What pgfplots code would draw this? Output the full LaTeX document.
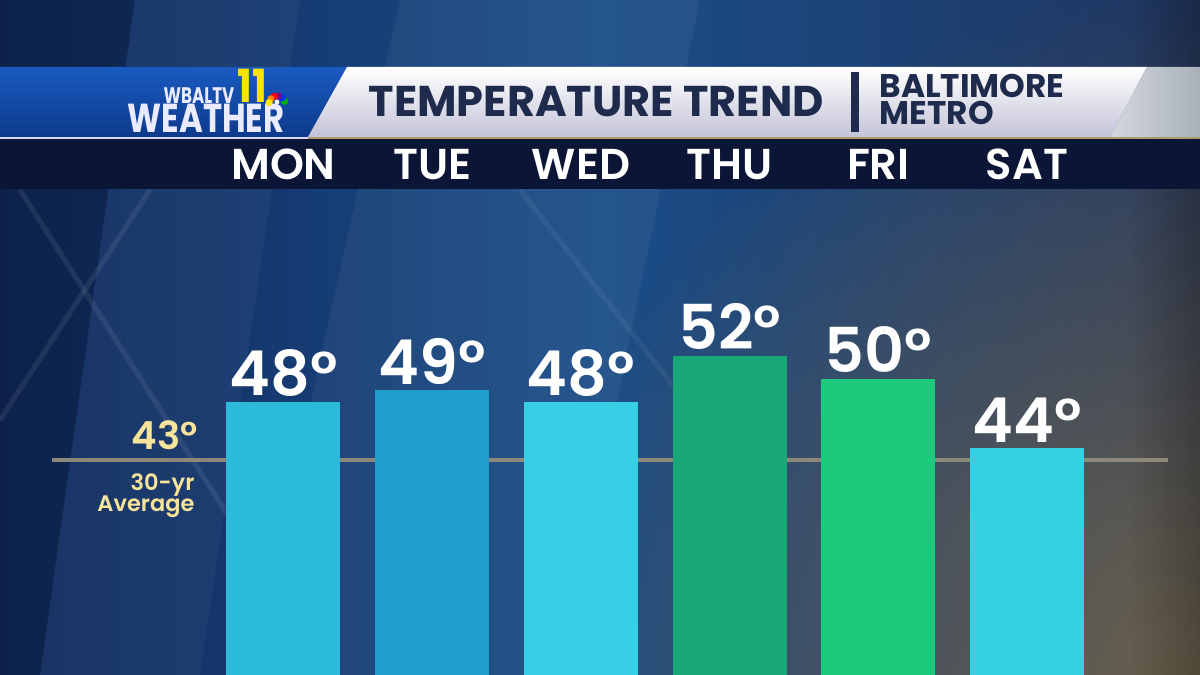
\documentclass[border=0pt]{standalone}
\usepackage{pgfplots}
\pgfplotsset{compat=1.18}
\usepackage{fontspec}
\setmainfont{Poppins}
\newfontfamily\semib{Poppins SemiBold}
\usepackage{graphicx}
\usetikzlibrary{fadings}
\definecolor{bgL}{HTML}{10295C}
\definecolor{bgM}{HTML}{1A4D88}
\definecolor{bgR}{HTML}{1F3560}
\definecolor{bgbrown}{HTML}{75664A}
\definecolor{cmon}{HTML}{2BBAD9}
\definecolor{ctue}{HTML}{1F9DCB}
\definecolor{cwed}{HTML}{36CFE6}
\definecolor{cthu}{HTML}{18A877}
\definecolor{cfri}{HTML}{1EC97D}
\definecolor{csat}{HTML}{34D0E3}
\definecolor{avggray}{HTML}{8C887A}
\definecolor{avgtext}{HTML}{F7E39A}
\definecolor{navytext}{HTML}{1F2B4D}
\definecolor{dayband}{HTML}{0B1535}
\definecolor{goldline}{HTML}{B09A6A}
\definecolor{logoblueA}{HTML}{1A5AC0}
\definecolor{logoblueB}{HTML}{0C3A8C}
\definecolor{hdrgrayA}{HTML}{D4D8DE}
\definecolor{hdrgrayB}{HTML}{A9B0BA}
\tikzfading[name=brownfade, inner color=transparent!5, outer color=transparent!100]
\begin{document}
\begin{tikzpicture}
\begin{scope}[x=0.1mm,y=-0.1mm,yshift=67.5mm]
\useasboundingbox (0,0) rectangle (1200,675);
% background
\shade[left color=bgL, right color=bgR, middle color=bgM] (0,0) rectangle (1200,675);
\begin{scope}
\clip (0,0) rectangle (1200,675);
\fill[black, opacity=0.18] (0,0) -- (135,0) -- (40,675) -- (0,675) -- cycle;
\fill[white, opacity=0.04] (135,0) -- (300,0) -- (200,675) -- (40,675) -- cycle;
\fill[white, opacity=0.05] (400,0) -- (700,0) -- (560,675) -- (250,675) -- cycle;
\draw[white, opacity=0.08, line width=1.5] (20,190) -- (330,675);
\draw[white, opacity=0.08, line width=1.5] (150,190) -- (0,420);
\draw[white, opacity=0.06, line width=1.5] (520,190) -- (700,420);
\fill[bgbrown, path fading=brownfade] (1230,700) circle (720);
\fill[black, opacity=0.25, path fading=west] (1130,0) rectangle (1200,675);
\end{scope}
% header band
\shade[top color=logoblueA, bottom color=logoblueB] (0,67) -- (347,67) -- (308,137) -- (0,137) -- cycle;
\shade[top color=white, bottom color=white!88!blue!70!gray] (347,67) -- (1147,67) -- (1110,137) -- (308,137) -- cycle;
\shade[left color=hdrgrayA, right color=hdrgrayB] (1147,67) -- (1200,67) -- (1200,137) -- (1110,137) -- cycle;
\fill[white!85!blue] (0,137) rectangle (308,139.5);
\fill[goldline] (308,137) rectangle (1200,139.5);
\fill[dayband] (0,139.5) rectangle (1200,189);
% header texts
\node[anchor=base west, inner sep=0pt, text=navytext, font=\fontsize{12.25pt}{13pt}\selectfont\bfseries] at (368,117) {TEMPERATURE TREND};
\draw[navytext, line width=2.2] (855,72) -- (855,132);
\node[anchor=base west, inner sep=0pt, text=navytext, font=\fontsize{9.3pt}{9.3pt}\selectfont\bfseries] at (879,98) {BALTIMORE};
\node[anchor=base west, inner sep=0pt, text=navytext, font=\fontsize{9.3pt}{9.3pt}\selectfont\bfseries] at (879,125) {METRO};
% logo
\node[anchor=base west, inner sep=0pt, text=white!92!blue, font=\fontsize{6.4pt}{7pt}\selectfont\bfseries] at (163,104) {\scalebox{0.74}[1]{WBALTV}};
\node[anchor=base west, inner sep=0pt, text=white!92!blue, font=\fontsize{11.5pt}{12pt}\selectfont\bfseries] at (127,133) {\scalebox{0.8}[1]{WEATHER}};
\node[anchor=base west, inner sep=0pt, text=yellow!85!orange, font=\fontsize{13pt}{13pt}\selectfont\bfseries] at (237,103) {\scalebox{0.85}[1]{11}};
\foreach \a/\c in {20/green!70!black,50/blue!80!cyan,80/violet,110/red,140/orange,170/yellow!90!orange}
  \fill[\c] (277,104) ++(-\a:8) circle (3.6);
\fill[white] (277,102) circle (2.4);
\end{scope}
\begin{axis}[at={(0,0)}, anchor=south west, scale only axis,
  width=120mm, height=67.5mm,
  xmin=-1.906, xmax=6.163, ymin=24.42, ymax=82.71,
  axis line style={draw=none}, tick style={draw=none}, major tick length=0pt,
  /pgf/number format/assume math mode=true,
  xtick={0,1,2,3,4,5}, xticklabels={MON,TUE,WED,THU,FRI,SAT},
  xticklabel pos=upper, ytick=\empty,
  xticklabel style={anchor=base, yshift=-18mm, text=white, inner sep=0pt,
    font=\fontsize{12.3pt}{13pt}\selectfont\semib},
  clip=true,
  mybar/.style={ybar, bar width=11.4mm, bar shift=0pt, fill=#1, draw=none,
    nodes near coords={\pgfmathprintnumber{\pgfplotspointmeta}°},
    every node near coord/.append style={anchor=base, inner sep=0pt, yshift=0.6mm, text=white,
      font=\fontsize{17.6pt}{18pt}\selectfont\semib}},
]
\addplot[sharp plot, draw=avggray, line width=0.4mm] coordinates {(-1.556,43) (5.948,43)};
\addplot[mybar=cmon] coordinates {(0,48)};
\addplot[mybar=ctue] coordinates {(1,49)};
\addplot[mybar=cwed] coordinates {(2,48)};
\addplot[mybar=cthu] coordinates {(3,52)};
\addplot[mybar=cfri] coordinates {(4,50)};
\addplot[mybar=csat] coordinates {(5,44)};
\node[anchor=base east, inner sep=0pt, text=avgtext, yshift=1mm, font=\fontsize{11pt}{11pt}\selectfont\semib] at (axis cs:-0.574,43) {43°};
\node[anchor=base east, inner sep=0pt, text=avgtext, yshift=-3.1mm, font=\fontsize{6.4pt}{7pt}\selectfont\semib] at (axis cs:-0.594,43) {30-yr};
\node[anchor=base east, inner sep=0pt, text=avgtext, yshift=-5.2mm, font=\fontsize{6.4pt}{7pt}\selectfont\semib] at (axis cs:-0.594,43) {Average};
\end{axis}
\end{tikzpicture}
\end{document}
